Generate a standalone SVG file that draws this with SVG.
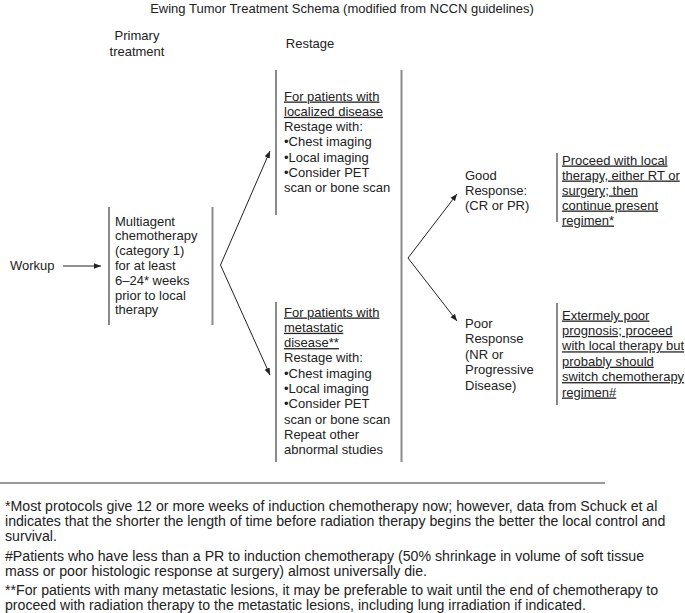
<svg xmlns="http://www.w3.org/2000/svg" width="685" height="613" viewBox="0 0 685 613">
<style>
text{font-family:"Liberation Sans",Arial,sans-serif;font-size:13px;fill:#222}
.u{text-decoration:underline}
.bar{stroke:#8a8a8a;stroke-width:2;fill:none}
.arr{stroke:#222;stroke-width:1;fill:none;marker-end:url(#ah)}
.c{text-anchor:middle}
.fn{font-size:14.15px}
</style>
<defs>
<marker id="ah" viewBox="0 0 10 10" refX="10" refY="5" markerWidth="7" markerHeight="7" markerUnits="userSpaceOnUse" orient="auto">
<path d="M0,1 L10,5 L0,9 z" fill="#222"/>
</marker>
</defs>
<rect width="685" height="613" fill="#fff"/>
<g id="headers">
<text class="c" x="342" y="13">Ewing Tumor Treatment Schema (modified from NCCN guidelines)</text>
<text class="c" x="137" y="40">Primary</text>
<text class="c" x="137" y="56">treatment</text>
<text class="c" x="310" y="48">Restage</text>
</g>
<g id="workup">
<text x="10" y="270">Workup</text>
</g>
<g id="primary">
<line class="bar" x1="109" y1="207" x2="109" y2="325"/>
<line class="bar" x1="212.5" y1="207" x2="212.5" y2="325"/>
<text x="115" y="225.5">Multiagent</text>
<text x="115" y="240.3">chemotherapy</text>
<text x="115" y="255.1">(category 1)</text>
<text x="115" y="270">for at least</text>
<text x="115" y="284.7">6–24* weeks</text>
<text x="115" y="299.5">prior to local</text>
<text x="115" y="314.3">therapy</text>
</g>
<g id="restage-localized">
<line class="bar" x1="276" y1="70" x2="276" y2="215"/>
<text class="u" x="284" y="100.5">For patients with</text>
<text class="u" x="284" y="115.8">localized disease</text>
<text x="284" y="131.1">Restage with:</text>
<text x="284" y="146.4">•Chest imaging</text>
<text x="284" y="161.7">•Local imaging</text>
<text x="284" y="177">•Consider PET</text>
<text x="284" y="192.3">scan or bone scan</text>
</g>
<g id="restage-metastatic">
<line class="bar" x1="276" y1="302" x2="276" y2="462"/>
<text class="u" x="284" y="316.5">For patients with</text>
<text class="u" x="284" y="331.8">metastatic</text>
<text class="u" x="284" y="347.1">disease**</text>
<text x="284" y="362.4">Restage with:</text>
<text x="284" y="377.7">•Chest imaging</text>
<text x="284" y="393">•Local imaging</text>
<text x="284" y="408.3">•Consider PET</text>
<text x="284" y="423.6">scan or bone scan</text>
<text x="284" y="438.9">Repeat other</text>
<text x="284" y="454.2">abnormal studies</text>
</g>
<g id="restage-divider">
<line class="bar" x1="401.5" y1="70" x2="401.5" y2="462"/>
</g>
<g id="good-response">
<text x="465" y="179.5">Good</text>
<text x="465" y="194.5">Response:</text>
<text x="465" y="209.5">(CR or PR)</text>
</g>
<g id="good-action">
<line class="bar" x1="557" y1="153" x2="557" y2="222"/>
<text class="u" x="562" y="164.5">Proceed with local</text>
<text class="u" x="562" y="179.5">therapy, either RT or</text>
<text class="u" x="562" y="194.5">surgery; then</text>
<text class="u" x="562" y="209.5">continue present</text>
<text class="u" x="562" y="224.5">regimen*</text>
</g>
<g id="poor-response">
<text x="465" y="327.5">Poor</text>
<text x="465" y="343">Response</text>
<text x="465" y="358.5">(NR or</text>
<text x="465" y="374">Progressive</text>
<text x="465" y="389.5">Disease)</text>
</g>
<g id="poor-action">
<line class="bar" x1="557" y1="303" x2="557" y2="405"/>
<text class="u" x="562" y="319.5">Extermely poor</text>
<text class="u" x="562" y="334.9">prognosis; proceed</text>
<text class="u" x="562" y="350.3">with local therapy but</text>
<text class="u" x="562" y="365.7">probably should</text>
<text class="u" x="562" y="381.1">switch chemotherapy</text>
<text class="u" x="562" y="396.5">regimen#</text>
</g>
<g id="connectors">
<line class="arr" x1="63" y1="266" x2="101" y2="266"/>
<line class="arr" x1="220.5" y1="265" x2="270" y2="151"/>
<line class="arr" x1="220.5" y1="265" x2="270" y2="375"/>
<line class="arr" x1="408" y1="258" x2="457" y2="194"/>
<line class="arr" x1="408" y1="258" x2="457" y2="321"/>
</g>
<g id="footnotes">
<line x1="0" y1="483" x2="605" y2="483" stroke="#999" stroke-width="2"/>
<text class="fn" x="5" y="511">*Most protocols give 12 or more weeks of induction chemotherapy now; however, data from Schuck et al</text>
<text class="fn" x="5" y="526">indicates that the shorter the length of time before radiation therapy begins the better the local control and</text>
<text class="fn" x="5" y="541">survival.</text>
<text class="fn" x="5" y="561">#Patients who have less than a PR to induction chemotherapy (50% shrinkage in volume of soft tissue</text>
<text class="fn" x="5" y="576">mass or poor histologic response at surgery) almost universally die.</text>
<text class="fn" x="5" y="594.5">**For patients with many metastatic lesions, it may be preferable to wait until the end of chemotherapy to</text>
<text class="fn" x="5" y="609.5">proceed with radiation therapy to the metastatic lesions, including lung irradiation if indicated.</text>
</g>
</svg>
